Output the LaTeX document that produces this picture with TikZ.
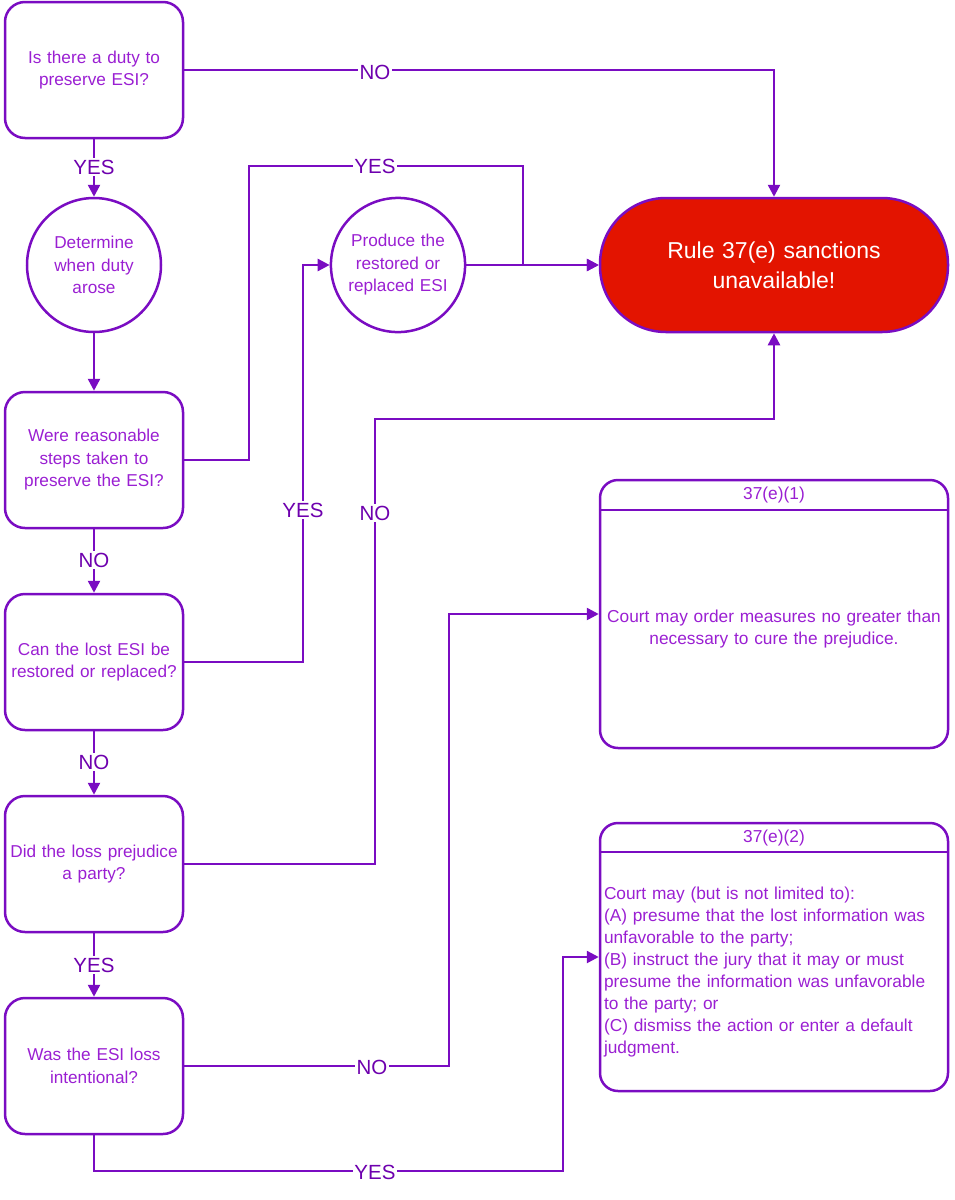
\documentclass[tikz,border=0pt]{standalone}
\usepackage{fontspec}
\setmainfont{Liberation Sans}
\usetikzlibrary{arrows.meta,calc}
\definecolor{ln}{HTML}{7A0CC2}
\definecolor{tx}{HTML}{9A1FD2}
\definecolor{lb}{HTML}{6E00AE}
\definecolor{rd}{HTML}{E31400}
\tikzset{
  qbox/.style={draw=ln,line width=2.5pt,rounded corners=20pt,minimum width=178pt,minimum height=136pt,text width=172pt,align=center,text=tx,font=\fontsize{17.2}{22.5}\selectfont,inner sep=0pt},
  qcirc/.style={draw=ln,line width=2.5pt,circle,minimum size=134pt,inner sep=0pt,text width=120pt,align=center,text=tx,font=\fontsize{17.2}{22.5}\selectfont},
  term/.style={draw=ln,line width=2.5pt,fill=rd,rounded corners=66pt,minimum width=348pt,minimum height=134pt,text width=320pt,align=center,text=white,font=\fontsize{23}{30}\selectfont},
  rbox/.style={draw=ln,line width=2.5pt,rounded corners=18pt,minimum width=348pt,minimum height=268pt},
  conn/.style={draw=ln,line width=2.5pt,-{Triangle[length=12pt,width=12pt]}},
  plain/.style={draw=ln,line width=2.5pt},
  lab/.style={fill=white,inner sep=1.5pt,text=lb,font=\fontsize{20.5}{20.5}\selectfont},
  btext/.style={text=tx,font=\fontsize{17.3}{22}\selectfont,inner sep=0pt}
}
\begin{document}
\begin{tikzpicture}[x=1pt,y=-1pt]
\useasboundingbox (0,0) rectangle (955,1200);
% nodes
\node[qbox] (b1) at (94,70) {Is there a duty to\\preserve ESI?};
\node[qcirc] (c1) at (94,265) {Determine\\when duty\\arose};
\node[qbox] (b2) at (94,460) {Were reasonable\\steps taken to\\preserve the ESI?};
\node[qbox] (b3) at (94,662) {Can the lost ESI be\\restored or replaced?};
\node[qbox] (b4) at (94,864) {Did the loss prejudice\\a party?};
\node[qbox] (b5) at (94,1066) {Was the ESI loss\\intentional?};
\node[qcirc] (c2) at (398,265) {Produce the\\restored or\\replaced ESI};
\node[term] (t) at (774,265) {Rule 37(e) sanctions\\unavailable!};
\node[rbox] (r1) at (774,614) {};
\node[rbox] (r2) at (774,957) {};
\draw[plain] ($(r1.north west)+(0,31)$) -- ($(r1.north east)+(0,31)$);
\draw[plain] ($(r2.north west)+(0,30)$) -- ($(r2.north east)+(0,30)$);
\node[btext] (h1) at ($(r1.north)+(0,16)$) {37(e)(1)};
\node[btext] (h2) at ($(r2.north)+(0,16)$) {37(e)(2)};
\node[btext,text width=344pt,align=center] (t1) at (774,629) {Court may order measures no greater than\\necessary to cure the prejudice.};
\node[btext,text width=344pt,align=left] (t2) at (776,972) {Court may (but is not limited to):\\(A) presume that the lost information was\\unfavorable to the party;\\(B) instruct the jury that it may or must\\presume the information was unfavorable\\to the party; or\\(C) dismiss the action or enter a default\\judgment.};
% connectors
\draw[conn] (b1.east) -| (t.north);
\draw[conn] (b1.south) -- (c1.north);
\draw[conn] (c1.south) -- (b2.north);
\draw[conn] (b2.east) -- (249,460) -- (249,166) -- (523,166) -- (523,265) -- (t.west);
\draw[conn] (c2.east) -- (t.west);
\draw[conn] (b2.south) -- (b3.north);
\draw[conn] (b3.east) -- (303,662) |- (c2.west);
\draw[conn] (b3.south) -- (b4.north);
\draw[conn] (b4.east) -- (375,864) |- (774,419) -- (t.south);
\draw[conn] (b4.south) -- (b5.north);
\draw[conn] (b5.east) -- (449,1066) |- (r1.west);
\draw[conn] (b5.south) -- (94,1171) -| (563,957) -- (r2.west);
% labels
\node[lab] at (375,72) {NO};
\node[lab] at (94,167) {YES};
\node[lab] at (375,166) {YES};
\node[lab] at (94,560) {NO};
\node[lab] at (303,510) {YES};
\node[lab] at (375,513) {NO};
\node[lab] at (94,762) {NO};
\node[lab] at (94,965) {YES};
\node[lab] at (372,1067) {NO};
\node[lab] at (375,1172) {YES};
\end{tikzpicture}
\end{document}
